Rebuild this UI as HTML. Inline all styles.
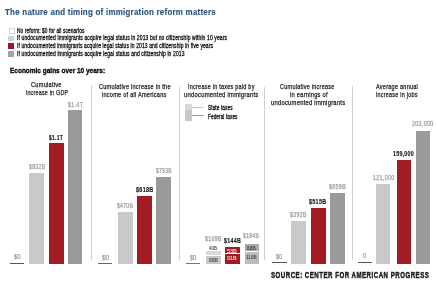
<!DOCTYPE html><html><head><meta charset="utf-8"><style>
html,body{margin:0;padding:0;background:#fff;width:437px;height:291px;overflow:hidden;position:relative;font-family:"Liberation Sans",sans-serif;}
.r{position:absolute}
.t{position:absolute;white-space:nowrap;transform-origin:0 0;line-height:1;}
#w{position:absolute;left:0;top:0;width:437px;height:291px;filter:blur(0.3px)}
</style></head><body><div id="w">
<div class="r" style="left:8.50px;top:28.00px;width:6.00px;height:5.00px;background:#fff"></div>
<div class="r" style="left:8.40px;top:35.80px;width:5.80px;height:5.10px;background:#ccd6d6"></div>
<div class="r" style="left:8.40px;top:43.40px;width:5.80px;height:5.20px;background:#961628"></div>
<div class="r" style="left:8.40px;top:51.00px;width:5.80px;height:5.50px;background:#a4a4a4"></div>
<div class="r" style="left:90.80px;top:85.00px;width:1.00px;height:175.20px;background:#d0d0d0"></div>
<div class="r" style="left:178.70px;top:86.50px;width:1.00px;height:173.70px;background:#d0d0d0"></div>
<div class="r" style="left:264.20px;top:86.50px;width:1.00px;height:173.70px;background:#d0d0d0"></div>
<div class="r" style="left:351.90px;top:86.00px;width:1.00px;height:174.20px;background:#d0d0d0"></div>
<div class="r" style="left:9.80px;top:262.80px;width:14.10px;height:1.00px;background:#555"></div>
<div class="r" style="left:29.10px;top:172.60px;width:14.90px;height:91.40px;background:#c9c9c9"></div>
<div class="r" style="left:48.90px;top:142.90px;width:14.70px;height:121.10px;background:#a21b22"></div>
<div class="r" style="left:68.10px;top:110.20px;width:14.20px;height:153.80px;background:#9a9a9a"></div>
<div class="r" style="left:97.70px;top:263.00px;width:14.10px;height:1.40px;background:#666"></div>
<div class="r" style="left:117.60px;top:212.10px;width:15.00px;height:51.90px;background:#c9c9c9"></div>
<div class="r" style="left:137.00px;top:196.00px;width:15.00px;height:68.00px;background:#a21b22"></div>
<div class="r" style="left:156.25px;top:176.80px;width:14.85px;height:87.20px;background:#9a9a9a"></div>
<div class="r" style="left:186.30px;top:263.20px;width:13.90px;height:1.30px;background:#777"></div>
<div class="r" style="left:205.90px;top:250.90px;width:15.40px;height:3.90px;background:#d8d8d8"></div>
<div class="r" style="left:205.90px;top:255.60px;width:15.40px;height:8.40px;background:#c8c8c8"></div>
<div class="r" style="left:225.10px;top:247.30px;width:15.00px;height:5.70px;background:#a21b22"></div>
<div class="r" style="left:225.10px;top:253.70px;width:15.00px;height:10.30px;background:#a21b22"></div>
<div class="r" style="left:245.00px;top:243.70px;width:14.10px;height:7.80px;background:#aaaaaa"></div>
<div class="r" style="left:245.00px;top:252.30px;width:14.10px;height:11.70px;background:#bcbcbc"></div>
<div class="r" style="left:272.30px;top:261.80px;width:14.50px;height:1.40px;background:#555"></div>
<div class="r" style="left:290.80px;top:221.40px;width:14.80px;height:42.60px;background:#c9c9c9"></div>
<div class="r" style="left:311.30px;top:207.50px;width:14.60px;height:56.50px;background:#a21b22"></div>
<div class="r" style="left:329.90px;top:192.80px;width:15.00px;height:71.20px;background:#9a9a9a"></div>
<div class="r" style="left:357.50px;top:261.80px;width:14.30px;height:1.30px;background:#555"></div>
<div class="r" style="left:376.20px;top:184.40px;width:14.30px;height:79.60px;background:#c9c9c9"></div>
<div class="r" style="left:397.30px;top:159.90px;width:13.60px;height:104.10px;background:#a21b22"></div>
<div class="r" style="left:415.90px;top:131.10px;width:13.70px;height:132.90px;background:#9a9a9a"></div>
<div class="r" style="left:185.20px;top:104.00px;width:6.80px;height:5.60px;background:#d8d8d8"></div>
<div class="r" style="left:185.20px;top:110.20px;width:6.80px;height:10.80px;background:#c8c8c8"></div>
<div class="r" style="left:192.00px;top:106.70px;width:11.80px;height:0.80px;background:#c4c4c4"></div>
<div class="r" style="left:192.00px;top:115.20px;width:11.80px;height:0.80px;background:#9a9a9a"></div>
<div class="r" style="left:8.5px;top:28px;width:4.6px;height:3.6px;border:0.7px solid #d2d2d2"></div>
<div class="t" style="left:5.20px;top:7px;font-size:9.8px;font-weight:bold;color:#2f5882;transform:scaleX(0.8107);-webkit-text-stroke:0.2px currentColor;letter-spacing:0.30px">The nature and timing of immigration reform matters</div>
<div class="t" style="left:17.30px;top:28px;font-size:6.6px;font-weight:normal;color:#111;transform:scaleX(0.7250);-webkit-text-stroke:0.3px currentColor;letter-spacing:0.15px">No reform: $0 for all scenarios</div>
<div class="t" style="left:17.30px;top:35px;font-size:6.6px;font-weight:normal;color:#111;transform:scaleX(0.7573);-webkit-text-stroke:0.3px currentColor;letter-spacing:0.15px">If undocumented immigrants acquire legal status in 2013 but no citizenship within 10 years</div>
<div class="t" style="left:17.30px;top:43px;font-size:6.6px;font-weight:normal;color:#111;transform:scaleX(0.7527);-webkit-text-stroke:0.3px currentColor;letter-spacing:0.15px">If undocumented immigrants acquire legal status in 2013 and citizenship in five years</div>
<div class="t" style="left:17.30px;top:51px;font-size:6.6px;font-weight:normal;color:#111;transform:scaleX(0.7568);-webkit-text-stroke:0.3px currentColor;letter-spacing:0.15px">If undocumented immigrants acquire legal status and citizenship in 2013</div>
<div class="t" style="left:9.90px;top:67px;font-size:7.8px;font-weight:bold;color:#000;transform:scaleX(0.8312);-webkit-text-stroke:0.3px currentColor">Economic gains over 10 years:</div>
<div class="t" style="left:30.70px;top:81px;font-size:7px;font-weight:normal;color:#1e1e1e;transform:scaleX(0.8064);-webkit-text-stroke:0.25px currentColor;letter-spacing:0.30px">Cumulative</div>
<div class="t" style="left:25.80px;top:89px;font-size:7px;font-weight:normal;color:#1e1e1e;transform:scaleX(0.7622);-webkit-text-stroke:0.25px currentColor;letter-spacing:0.30px">increase in GDP</div>
<div class="t" style="left:98.90px;top:83px;font-size:7px;font-weight:normal;color:#1e1e1e;transform:scaleX(0.7947);-webkit-text-stroke:0.25px currentColor;letter-spacing:0.30px">Cumulative increase in the</div>
<div class="t" style="left:102.40px;top:91px;font-size:7px;font-weight:normal;color:#1e1e1e;transform:scaleX(0.7985);-webkit-text-stroke:0.25px currentColor;letter-spacing:0.30px">income of all Americans</div>
<div class="t" style="left:188.40px;top:83px;font-size:7px;font-weight:normal;color:#1e1e1e;transform:scaleX(0.7846);-webkit-text-stroke:0.25px currentColor;letter-spacing:0.30px">Increase in taxes paid by</div>
<div class="t" style="left:184.10px;top:91px;font-size:7px;font-weight:normal;color:#1e1e1e;transform:scaleX(0.8338);-webkit-text-stroke:0.25px currentColor;letter-spacing:0.30px">undocumented immigrants</div>
<div class="t" style="left:280.20px;top:83px;font-size:7px;font-weight:normal;color:#1e1e1e;transform:scaleX(0.7893);-webkit-text-stroke:0.25px currentColor;letter-spacing:0.30px">Cumulative increase</div>
<div class="t" style="left:290.10px;top:91px;font-size:7px;font-weight:normal;color:#1e1e1e;transform:scaleX(0.8177);-webkit-text-stroke:0.25px currentColor;letter-spacing:0.30px">in earnings of</div>
<div class="t" style="left:271.40px;top:99px;font-size:7px;font-weight:normal;color:#1e1e1e;transform:scaleX(0.8316);-webkit-text-stroke:0.25px currentColor;letter-spacing:0.30px">undocumented immigrants</div>
<div class="t" style="left:375.50px;top:83px;font-size:7px;font-weight:normal;color:#1e1e1e;transform:scaleX(0.7924);-webkit-text-stroke:0.25px currentColor;letter-spacing:0.30px">Average annual</div>
<div class="t" style="left:375.50px;top:91px;font-size:7px;font-weight:normal;color:#1e1e1e;transform:scaleX(0.7793);-webkit-text-stroke:0.25px currentColor;letter-spacing:0.30px">increase in jobs</div>
<div class="t" style="left:207.80px;top:105px;font-size:6.6px;font-weight:normal;color:#111;transform:scaleX(0.7104);-webkit-text-stroke:0.3px currentColor;letter-spacing:0.15px">State taxes</div>
<div class="t" style="left:207.80px;top:114px;font-size:6.6px;font-weight:normal;color:#111;transform:scaleX(0.7043);-webkit-text-stroke:0.3px currentColor;letter-spacing:0.15px">Federal taxes</div>
<div class="t" style="left:14.30px;top:254px;font-size:6.6px;font-weight:normal;color:#9c9c9c;transform:scaleX(0.8869);-webkit-text-stroke:0.25px currentColor">$0</div>
<div class="t" style="left:29.40px;top:164px;font-size:6.6px;font-weight:normal;color:#9c9c9c;transform:scaleX(0.7805);-webkit-text-stroke:0.25px currentColor;letter-spacing:0.40px">$832B</div>
<div class="t" style="left:48.70px;top:134px;font-size:7.3px;font-weight:bold;color:#222;transform:scaleX(0.6730);-webkit-text-stroke:0.2px currentColor;letter-spacing:0.40px">$1.1T</div>
<div class="t" style="left:68.25px;top:102px;font-size:6.6px;font-weight:normal;color:#9c9c9c;transform:scaleX(0.8056);-webkit-text-stroke:0.25px currentColor;letter-spacing:0.40px">$1.4T</div>
<div class="t" style="left:101.90px;top:255px;font-size:6.6px;font-weight:normal;color:#9c9c9c;transform:scaleX(0.9391);-webkit-text-stroke:0.25px currentColor">$0</div>
<div class="t" style="left:116.80px;top:203px;font-size:6.6px;font-weight:normal;color:#9c9c9c;transform:scaleX(0.7617);-webkit-text-stroke:0.25px currentColor;letter-spacing:0.40px">$470B</div>
<div class="t" style="left:136.00px;top:186px;font-size:7.3px;font-weight:bold;color:#222;transform:scaleX(0.7489);-webkit-text-stroke:0.2px currentColor;letter-spacing:0.40px">$618B</div>
<div class="t" style="left:155.70px;top:168px;font-size:6.6px;font-weight:normal;color:#9c9c9c;transform:scaleX(0.7523);-webkit-text-stroke:0.25px currentColor;letter-spacing:0.40px">$793B</div>
<div class="t" style="left:189.90px;top:255px;font-size:6.6px;font-weight:normal;color:#9c9c9c;transform:scaleX(0.8478);-webkit-text-stroke:0.25px currentColor">$0</div>
<div class="t" style="left:204.50px;top:236px;font-size:6.6px;font-weight:normal;color:#9c9c9c;transform:scaleX(0.8040);-webkit-text-stroke:0.25px currentColor;letter-spacing:0.40px">$109B</div>
<div class="t" style="left:224.10px;top:237px;font-size:7.3px;font-weight:bold;color:#222;transform:scaleX(0.7226);-webkit-text-stroke:0.2px currentColor;letter-spacing:0.40px">$144B</div>
<div class="t" style="left:242.60px;top:233px;font-size:6.6px;font-weight:normal;color:#9c9c9c;transform:scaleX(0.7664);-webkit-text-stroke:0.25px currentColor;letter-spacing:0.40px">$184B</div>
<div class="t" style="left:275.90px;top:254px;font-size:6.6px;font-weight:normal;color:#9c9c9c;transform:scaleX(0.8217);-webkit-text-stroke:0.25px currentColor">$0</div>
<div class="t" style="left:289.90px;top:212px;font-size:6.6px;font-weight:normal;color:#9c9c9c;transform:scaleX(0.7946);-webkit-text-stroke:0.25px currentColor;letter-spacing:0.40px">$392B</div>
<div class="t" style="left:309.20px;top:198px;font-size:7.3px;font-weight:bold;color:#222;transform:scaleX(0.7402);-webkit-text-stroke:0.2px currentColor;letter-spacing:0.40px">$515B</div>
<div class="t" style="left:328.90px;top:184px;font-size:6.6px;font-weight:normal;color:#9c9c9c;transform:scaleX(0.8087);-webkit-text-stroke:0.25px currentColor;letter-spacing:0.40px">$659B</div>
<div class="t" style="left:363.00px;top:253px;font-size:6.6px;font-weight:normal;color:#9c9c9c;transform:scaleX(0.8000);-webkit-text-stroke:0.25px currentColor">0</div>
<div class="t" style="left:372.70px;top:175px;font-size:6.6px;font-weight:normal;color:#9c9c9c;transform:scaleX(0.8055);-webkit-text-stroke:0.25px currentColor;letter-spacing:0.40px">121,000</div>
<div class="t" style="left:392.60px;top:150px;font-size:7.3px;font-weight:bold;color:#222;transform:scaleX(0.7173);-webkit-text-stroke:0.2px currentColor;letter-spacing:0.40px">159,000</div>
<div class="t" style="left:411.80px;top:121px;font-size:6.6px;font-weight:normal;color:#9c9c9c;transform:scaleX(0.8130);-webkit-text-stroke:0.25px currentColor;letter-spacing:0.40px">203,000</div>
<div class="t" style="left:209.10px;top:246px;font-size:5px;font-weight:normal;color:#444;transform:scaleX(0.9099);-webkit-text-stroke:0.1px currentColor">40B</div>
<div class="t" style="left:208.70px;top:258px;font-size:5px;font-weight:normal;color:#444;transform:scaleX(0.9936);-webkit-text-stroke:0.1px currentColor">69B</div>
<div class="t" style="left:227.20px;top:249px;font-size:5px;font-weight:normal;color:#f4dede;transform:scaleX(1.0772);-webkit-text-stroke:0.1px currentColor">53B</div>
<div class="t" style="left:227.20px;top:256px;font-size:5px;font-weight:normal;color:#f4dede;transform:scaleX(1.0772);-webkit-text-stroke:0.1px currentColor">91B</div>
<div class="t" style="left:247.30px;top:246px;font-size:5px;font-weight:normal;color:#444;transform:scaleX(0.9726);-webkit-text-stroke:0.1px currentColor">68B</div>
<div class="t" style="left:246.30px;top:255px;font-size:5px;font-weight:normal;color:#444;transform:scaleX(0.9439);-webkit-text-stroke:0.1px currentColor">116B</div>
<div class="t" style="left:270.90px;top:271px;font-size:8.9px;font-weight:bold;color:#1a1a1a;transform:scaleX(0.6912);-webkit-text-stroke:0.45px currentColor;letter-spacing:0.70px">SOURCE: CENTER FOR AMERICAN PROGRESS</div>
</div></body></html>
